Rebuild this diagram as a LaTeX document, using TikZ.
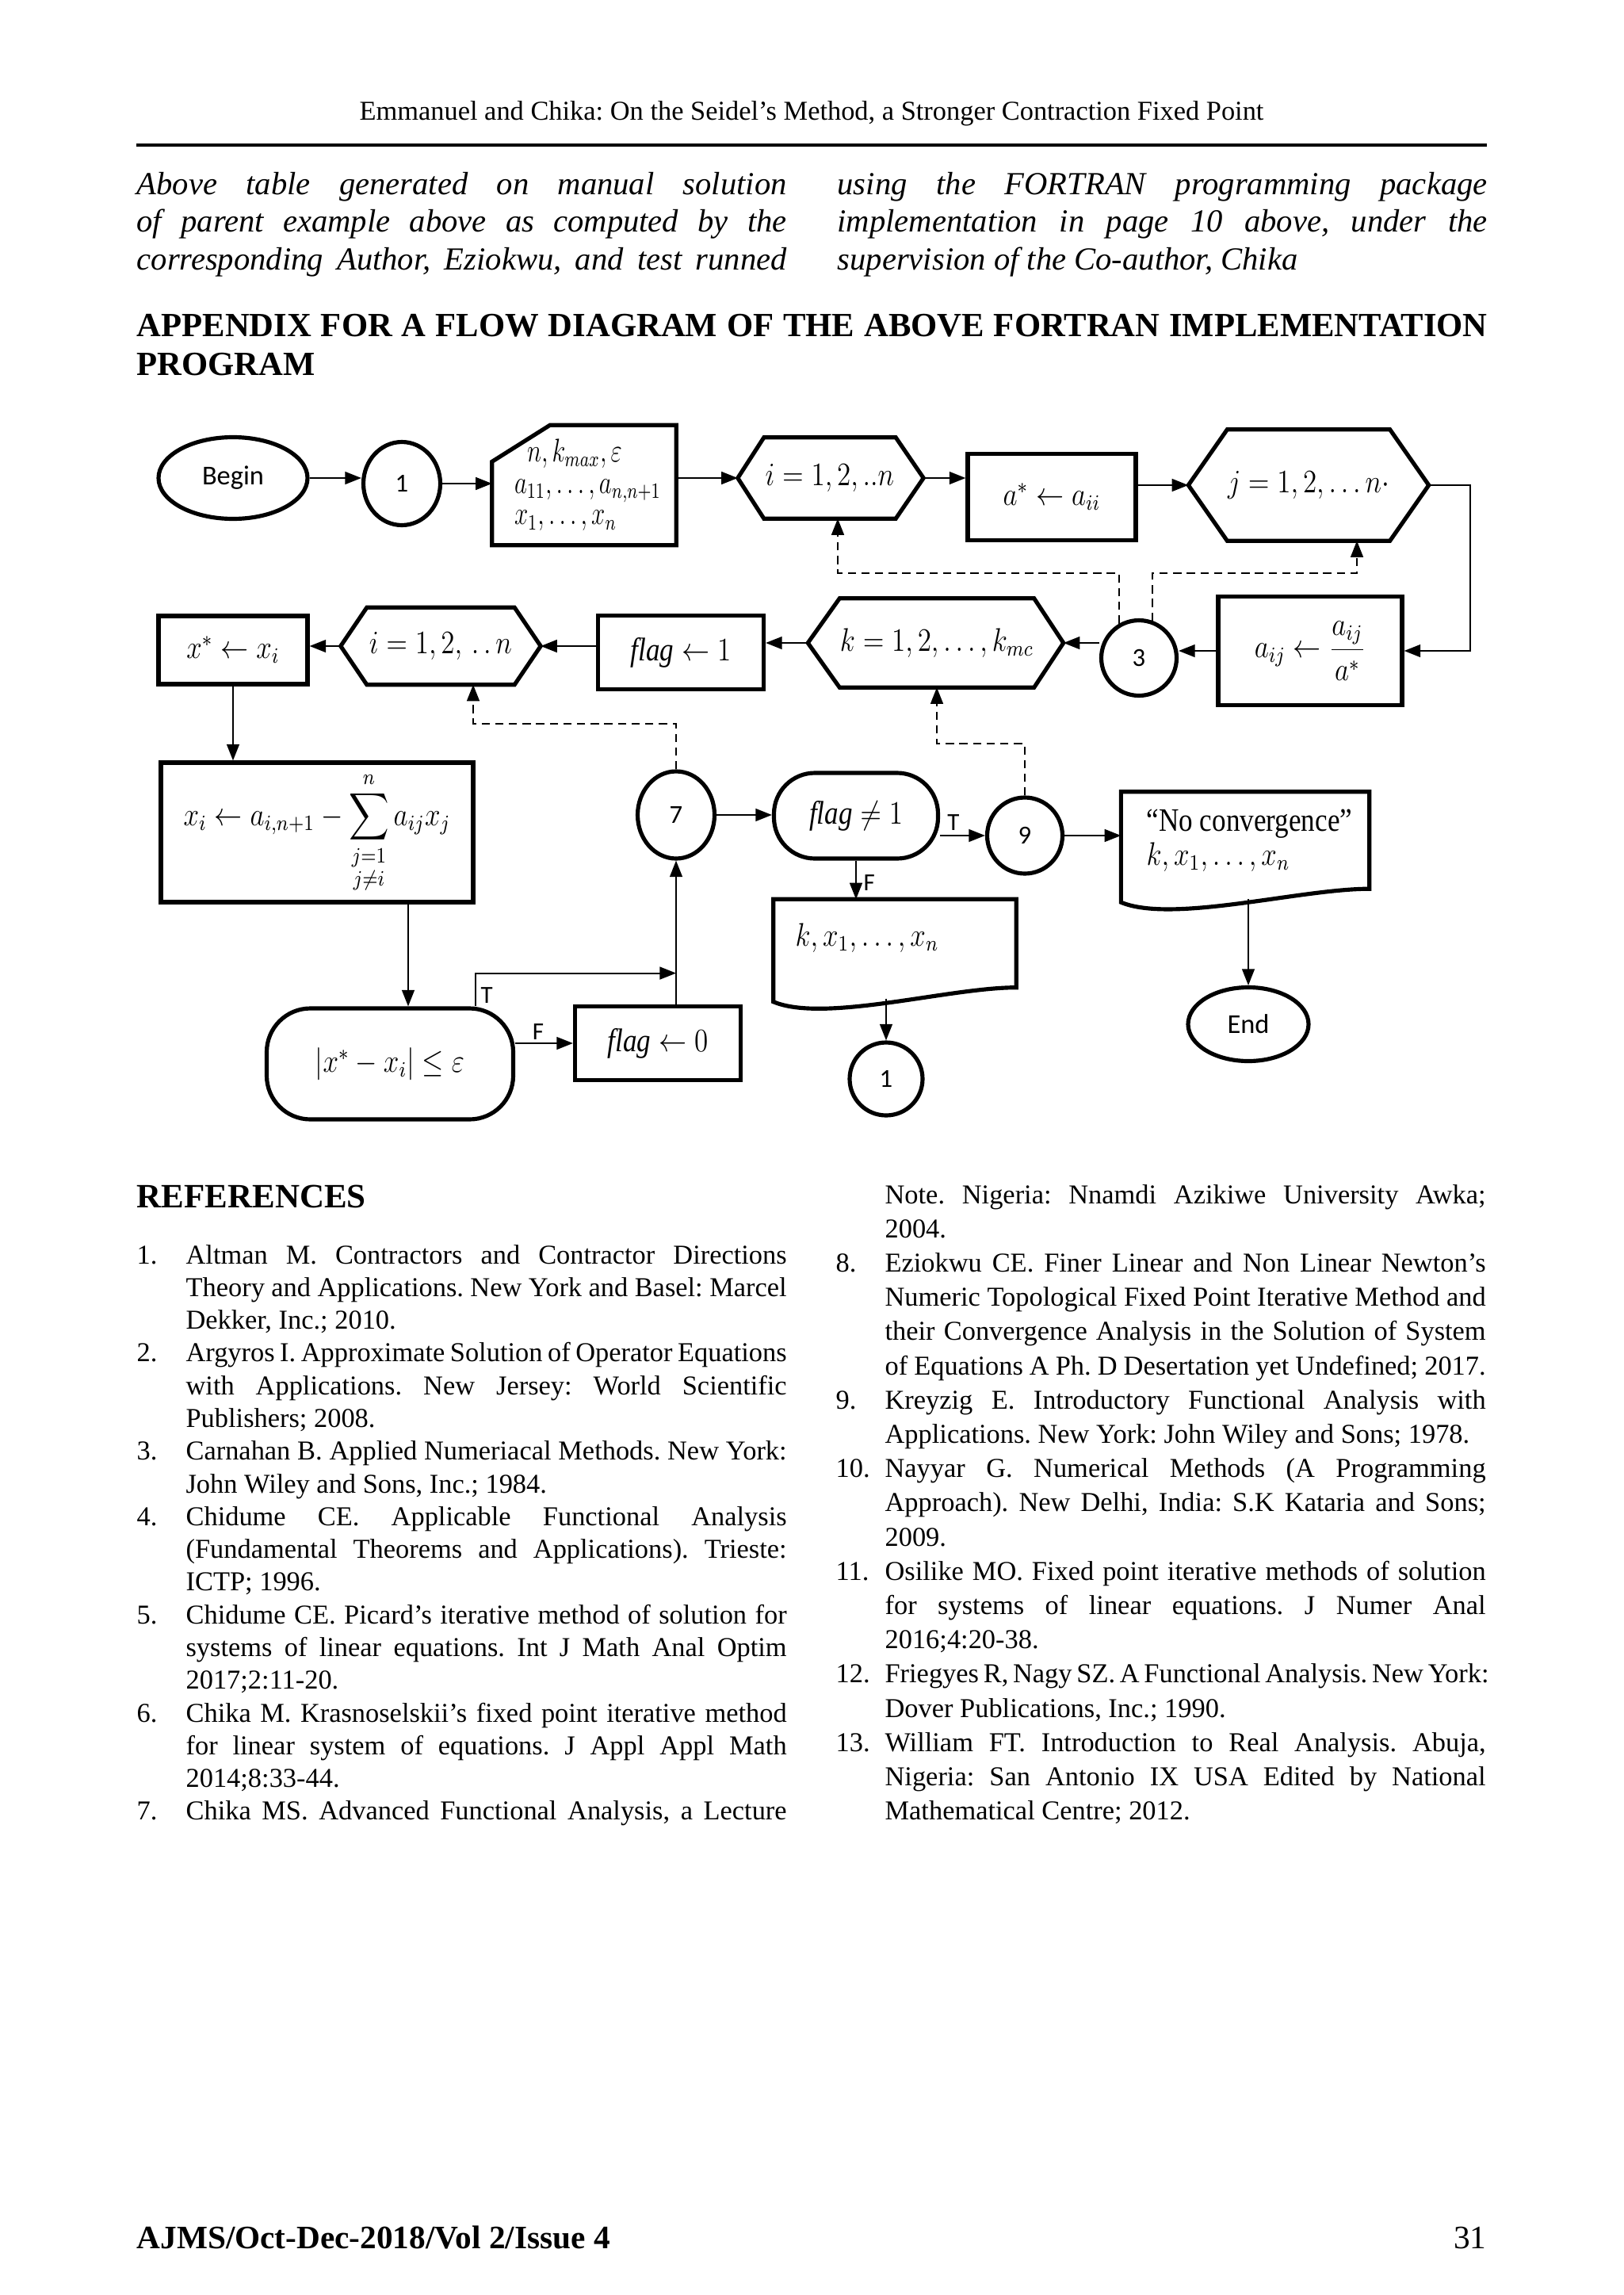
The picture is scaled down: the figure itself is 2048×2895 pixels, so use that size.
\documentclass[tikz,border=0pt]{standalone}
\usepackage{fontspec}
\usepackage{amsmath}
\usepackage{graphicx}
\setmainfont{Liberation Serif}
\newfontfamily\sansf{Carlito}
\usetikzlibrary{arrows.meta,shapes.geometric,calc}
\newdimen\px \px=0.29066pt
\newdimen\colw \colw=238.34pt
\newdimen\indw \indw=18pt
\newcommand\dm[1]{\scalebox{0.85}[1]{$#1$}}
\newcommand\dmi[1]{\scalebox{0.75}[1]{$#1$}}
\newcommand\JL[1]{\hbox to \colw{#1}}
\newcommand\NLn[1]{\hbox to \colw{#1\hfil}}
\newcommand\RJ[2]{\hbox to \colw{\hbox to \indw{#1\hfil}\hbox to \dimexpr\colw-\indw\relax{#2}}}
\newcommand\RN[2]{\hbox to \colw{\hbox to \indw{#1\hfil}#2\hfil}}
\begin{document}
\frenchspacing
\begin{tikzpicture}[x=0.29066pt, y=-0.29066pt,
  bord/.style={line width=1.5pt},
  shp/.style={draw, bord, inner sep=0pt, font=\fontsize{12}{12}\selectfont},
  ghost/.style={inner sep=0pt, font=\fontsize{12}{12}\selectfont},
  conn/.style={line width=0.6pt},
  arr/.style={conn, -{Triangle[length=6pt,width=4.6pt]}},
  dsh/.style={conn, dash pattern=on 3pt off 2pt, -{Triangle[length=6pt,width=4.6pt]}},
  numf/.style={font=\sansf\fontsize{9.5}{11}\selectfont},
  lab/.style={font=\sansf\fontsize{9}{10}\selectfont, inner sep=0pt},
  txt/.style={inner sep=0pt}]
\useasboundingbox (0,0) rectangle (2048,2895);
\fill[white] (0,0) rectangle (2048,2895);

% ---------- header ----------
\node[txt, anchor=base, font=\fontsize{10}{12}\selectfont] (hdr) at (1024,151) {Emmanuel and Chika: On the Seidel’s Method, a Stronger Contraction Fixed Point};
\draw[line width=1.2pt] (172,183) -- (1876,183);

% ---------- intro ----------
\node[txt, anchor=base west] (introL) at (172,245) {\vtop{\itshape\fontsize{11.8}{13.95}\selectfont\lineskiplimit=-100pt
\JL{Above table generated on manual solution}
\JL{of parent example above as computed by the}
\JL{corresponding Author, Eziokwu, and test runned}}};
\node[txt, anchor=base west] (introR) at (1056,245) {\vtop{\itshape\fontsize{11.8}{13.95}\selectfont\lineskiplimit=-100pt
\JL{using the FORTRAN programming package}
\JL{implementation in page 10 above, under the}
\NLn{supervision of the Co-author, Chika}}};

\node[txt, anchor=base west] (appx) at (172,424) {\vtop{\bfseries\fontsize{12.4}{14.5}\selectfont\lineskiplimit=-100pt
\hbox to 495.3pt{APPENDIX FOR A FLOW DIAGRAM OF THE ABOVE FORTRAN IMPLEMENTATION}
\hbox to 495.3pt{PROGRAM\hfil}}};

% ---------- diagram: row 1 ----------
\node[shp, ellipse, minimum width=188\px, minimum height=103\px, font=\sansf\fontsize{10}{12}\selectfont] (begin) at (294,603) {Begin};
\node[shp, ellipse, minimum width=97\px, minimum height=105\px, numf] (c1) at (507,610) {1};
\node[ghost, minimum width=231\px, minimum height=150\px, text width=176\px, align=left, font=\fontsize{11.5}{11.5}\selectfont] (inp) at (737,612) {\hspace*{16\px}\dmi{n,k_{max},\varepsilon}\\ \dmi{a_{11},\ldots,a_{n,n+1}}\\ \dmi{x_1,\ldots,x_n}};
\draw[bord] ($(inp.north west)+(0,46)$) -- ($(inp.north west)+(73,0)$) -- (inp.north east) -- (inp.south east) -- (inp.south west) -- cycle;
\node[ghost, minimum width=165\px, minimum height=101\px] (h1) at (1047,603) {\dm{i=1,2,..n}};
\draw[bord] (h1.north west) -- (h1.north east) -- ($(h1.east)+(35,0)$) coordinate (h1r) -- (h1.south east) -- (h1.south west) -- ($(h1.west)+(-33,0)$) coordinate (h1l) -- cycle;
\node[shp, minimum width=212\px, minimum height=109\px] (ast) at (1327,627) {\dm{a^{*}\leftarrow a_{ii}}};
\node[ghost, minimum width=183\px, minimum height=139\px] (hj) at (1651,612) {\dm{j=1,2,\ldots n\cdot}};
\draw[bord] (hj.north west) -- (hj.north east) -- ($(hj.east)+(49,0)$) coordinate (hjr) -- (hj.south east) -- (hj.south west) -- ($(hj.west)+(-49,0)$) coordinate (hjl) -- cycle;

% ---------- row 2 ----------
\node[shp, minimum width=188\px, minimum height=86\px] (xs) at (294,820) {\dm{x^{*}\leftarrow x_i}};
\node[ghost, minimum width=185\px, minimum height=96\px] (h2) at (556,815) {\dm{i=1,2,\,.\,.\,n}};
\draw[bord] (h2.north west) -- (h2.north east) -- ($(h2.east)+(33,0)$) coordinate (h2r) -- (h2.south east) -- (h2.south west) -- ($(h2.west)+(-33,0)$) coordinate (h2l) -- cycle;
\node[shp, minimum width=209\px, minimum height=93\px] (f1) at (859,823) {\dm{\textit{flag}\leftarrow 1}};
\node[ghost, minimum width=227\px, minimum height=111\px] (kh) at (1182,811) {\dm{k=1,2,\ldots,k_{mc}}};
\draw[bord] (kh.north west) -- (kh.north east) -- ($(kh.east)+(37,0)$) coordinate (khr) -- (kh.south east) -- (kh.south west) -- ($(kh.west)+(-40,0)$) coordinate (khl) -- cycle;
\node[shp, ellipse, minimum width=95\px, minimum height=95\px, numf] (c3) at (1437,830) {3};
\node[shp, minimum width=232\px, minimum height=137\px] (aij) at (1653,821) {\dm{a_{ij}\leftarrow\dfrac{a_{ij}}{a^{*}}}};

% ---------- row 3 ----------
\node[shp, minimum width=394\px, minimum height=176\px] (sb) at (400,1050) {\dm{\displaystyle x_i\leftarrow a_{i,n+1}-\sum_{\substack{j=1\\ j\neq i}}^{n}a_{ij}x_j}};
\node[shp, ellipse, minimum width=97\px, minimum height=110\px, numf] (c7) at (853,1028) {7};
\node[shp, rounded corners=15pt, minimum width=207\px, minimum height=108\px] (fn) at (1080,1029) {\dm{\textit{flag}\neq 1}};
\node[shp, ellipse, minimum width=95\px, minimum height=96\px, numf] (c9) at (1293,1054) {9};
\node[ghost, minimum width=312\px, minimum height=121\px] (nd) at (1571,1060) {};
\draw[bord] (nd.north west) -- (nd.north east) -- (nd.south east) .. controls +(-87,0) and +(65,27) .. ($(nd.south west)+(0,17)$) -- cycle;
\node[ghost, anchor=north west, align=left, font=\fontsize{12}{12.5}\selectfont] (ndt) at (1446,1020) {\scalebox{0.85}[1]{“No convergence”}\\ \dm{k,x_1,\ldots,x_n}};
\node[ghost, minimum width=305\px, minimum height=110\px] (od) at (1129,1190) {};
\draw[bord] (od.north west) -- (od.north east) -- (od.south east) .. controls +(-85,0) and +(64,27) .. ($(od.south west)+(0,18)$) -- cycle;
\node[ghost, anchor=west] (odt) at (1003,1183) {\dm{k,x_1,\ldots,x_n}};

\node[shp, rounded corners=16pt, minimum width=311\px, minimum height=140\px] (term) at (492,1342) {\dm{\left|x^{*}-x_i\right|\le\varepsilon}};
\node[shp, minimum width=209\px, minimum height=93\px] (f0) at (830,1316) {\dm{\textit{flag}\leftarrow 0}};
\node[shp, ellipse, minimum width=152\px, minimum height=93\px, font=\sansf\fontsize{10}{12}\selectfont] (end) at (1575,1292) {End};
\node[shp, ellipse, minimum width=92\px, minimum height=92\px, numf] (c1b) at (1118,1361) {1};

% ---------- connectors ----------
\draw[arr] (begin.east) -- (begin.east -| c1.west);
\draw[arr] (c1.east) -- (c1.east -| inp.west);
\draw[arr] (inp.east |- h1l) -- (h1l);
\draw[arr] (h1r) -- (h1r -| ast.west);
\draw[arr] (ast.east |- hjl) -- (hjl);
\draw[arr] (hjr) -- ++(52,0) |- (aij.east);

\draw[arr] (aij.west) -- (aij.west -| c3.east);
\draw[arr] (c3.west |- khr) -- (khr);
\draw[arr] (khl) -- (khl -| f1.east);
\draw[arr] (f1.west |- h2r) -- (h2r);
\draw[arr] (h2l) -- (h2l -| xs.east);

\coordinate (lvA) at (0,723);
\coordinate (lvB) at (0,938);
\coordinate (lvC) at (0,913);
\draw[dsh] (c3.120) -- (c3.120 |- lvA) -| ($(h1.south)+(10,0)$);
\draw[dsh] (c3.70) -- (c3.70 |- lvA) -| ($(hj.south)+(61,0)$);
\draw[dsh] (c9.north) -- (c9.north |- lvB) -| (kh.south);
\draw[dsh] (c7.north) -- (c7.north |- lvC) -| ($(h2.south)+(41,0)$);

\draw[arr] (xs.south) -- (xs.south |- sb.north);
\coordinate (sbo) at ($(sb.south)+(115,0)$);
\draw[arr] (sbo) -- (sbo |- term.north);
\draw[arr] ($(term.north)+(108,0)$) |- ($(c7.south)+(0,142)$);
\draw[arr] (f0.north -| c7.south) -- (c7.south);
\draw[arr] (f0.west -| term.east) -- (f0.west);
\draw[arr] (c7.east) -- (c7.east -| fn.west);
\draw[arr] (c9.west -| fn.east) -- (c9.west);
\draw[arr] (c9.east) -- (c9.east -| nd.west);
\draw[arr] (fn.south) -- (fn.south |- od.north);
\draw[arr] ($(nd.south)+(4,13)$) -- (end.north);
\draw[arr] ($(od.south)+(-11,14)$) -- (c1b.north);

\node[lab, anchor=south west] (lT1) at ($(term.north)+(114,-3)$) {T};
\node[lab, anchor=south] (lF1) at ($(f0.west)+(-44,-4)$) {F};
\node[lab, anchor=south] (lT2) at ($(c9.west)+(-40,-6)$) {T};
\node[lab, anchor=west] (lF2) at ($(fn.south)+(9,28)$) {F};

% ---------- references ----------
\node[txt, anchor=base west, font=\bfseries\fontsize{12.5}{14}\selectfont] (refh) at (172,1523) {REFERENCES};

\node[txt, anchor=base west] (refL) at (172,1594) {\vtop{\fontsize{10}{12}\selectfont\lineskiplimit=-100pt
\RJ{1.}{Altman M. Contractors and Contractor Directions}
\RJ{}{Theory and Applications. New York and Basel: Marcel}
\RN{}{Dekker, Inc.; 2010.}
\RJ{2.}{Argyros I. Approximate Solution of Operator Equations}
\RJ{}{with Applications. New Jersey: World Scientific}
\RN{}{Publishers; 2008.}
\RJ{3.}{Carnahan B. Applied Numeriacal Methods. New York:}
\RN{}{John Wiley and Sons, Inc.; 1984.}
\RJ{4.}{Chidume CE. Applicable Functional Analysis}
\RJ{}{(Fundamental Theorems and Applications). Trieste:}
\RN{}{ICTP; 1996.}
\RJ{5.}{Chidume CE. Picard’s iterative method of solution for}
\RJ{}{systems of linear equations. Int J Math Anal Optim}
\RN{}{2017;2:11-20.}
\RJ{6.}{Chika M. Krasnoselskii’s fixed point iterative method}
\RJ{}{for linear system of equations. J Appl Appl Math}
\RN{}{2014;8:33-44.}
\RJ{7.}{Chika MS. Advanced Functional Analysis, a Lecture}}};

\node[txt, anchor=base west] (refR) at (1054,1518) {\vtop{\fontsize{10}{12.56}\selectfont\lineskiplimit=-100pt
\RJ{}{Note. Nigeria: Nnamdi Azikiwe University Awka;}
\RN{}{2004.}
\RJ{8.}{Eziokwu CE. Finer Linear and Non Linear Newton’s}
\RJ{}{Numeric Topological Fixed Point Iterative Method and}
\RJ{}{their Convergence Analysis in the Solution of System}
\RN{}{of Equations A Ph. D Desertation yet Undefined; 2017.}
\RJ{9.}{Kreyzig E. Introductory Functional Analysis with}
\RN{}{Applications. New York: John Wiley and Sons; 1978.}
\RJ{10.}{Nayyar G. Numerical Methods (A Programming}
\RJ{}{Approach). New Delhi, India: S.K Kataria and Sons;}
\RN{}{2009.}
\RJ{11.}{Osilike MO. Fixed point iterative methods of solution}
\RJ{}{for systems of linear equations. J Numer Anal}
\RN{}{2016;4:20-38.}
\RJ{12.}{Friegyes R, Nagy SZ. A Functional Analysis. New York:}
\RN{}{Dover Publications, Inc.; 1990.}
\RJ{13.}{William FT. Introduction to Real Analysis. Abuja,}
\RJ{}{Nigeria: San Antonio IX USA Edited by National}
\RN{}{Mathematical Centre; 2012.}}};

% ---------- footer ----------
\node[txt, anchor=base west, font=\bfseries\fontsize{12}{14}\selectfont] (ftl) at (172,2836) {AJMS/Oct-Dec-2018/Vol 2/Issue 4};
\node[txt, anchor=base east, font=\fontsize{12}{14}\selectfont] (ftr) at (1876,2836) {31};
\end{tikzpicture}
\end{document}
